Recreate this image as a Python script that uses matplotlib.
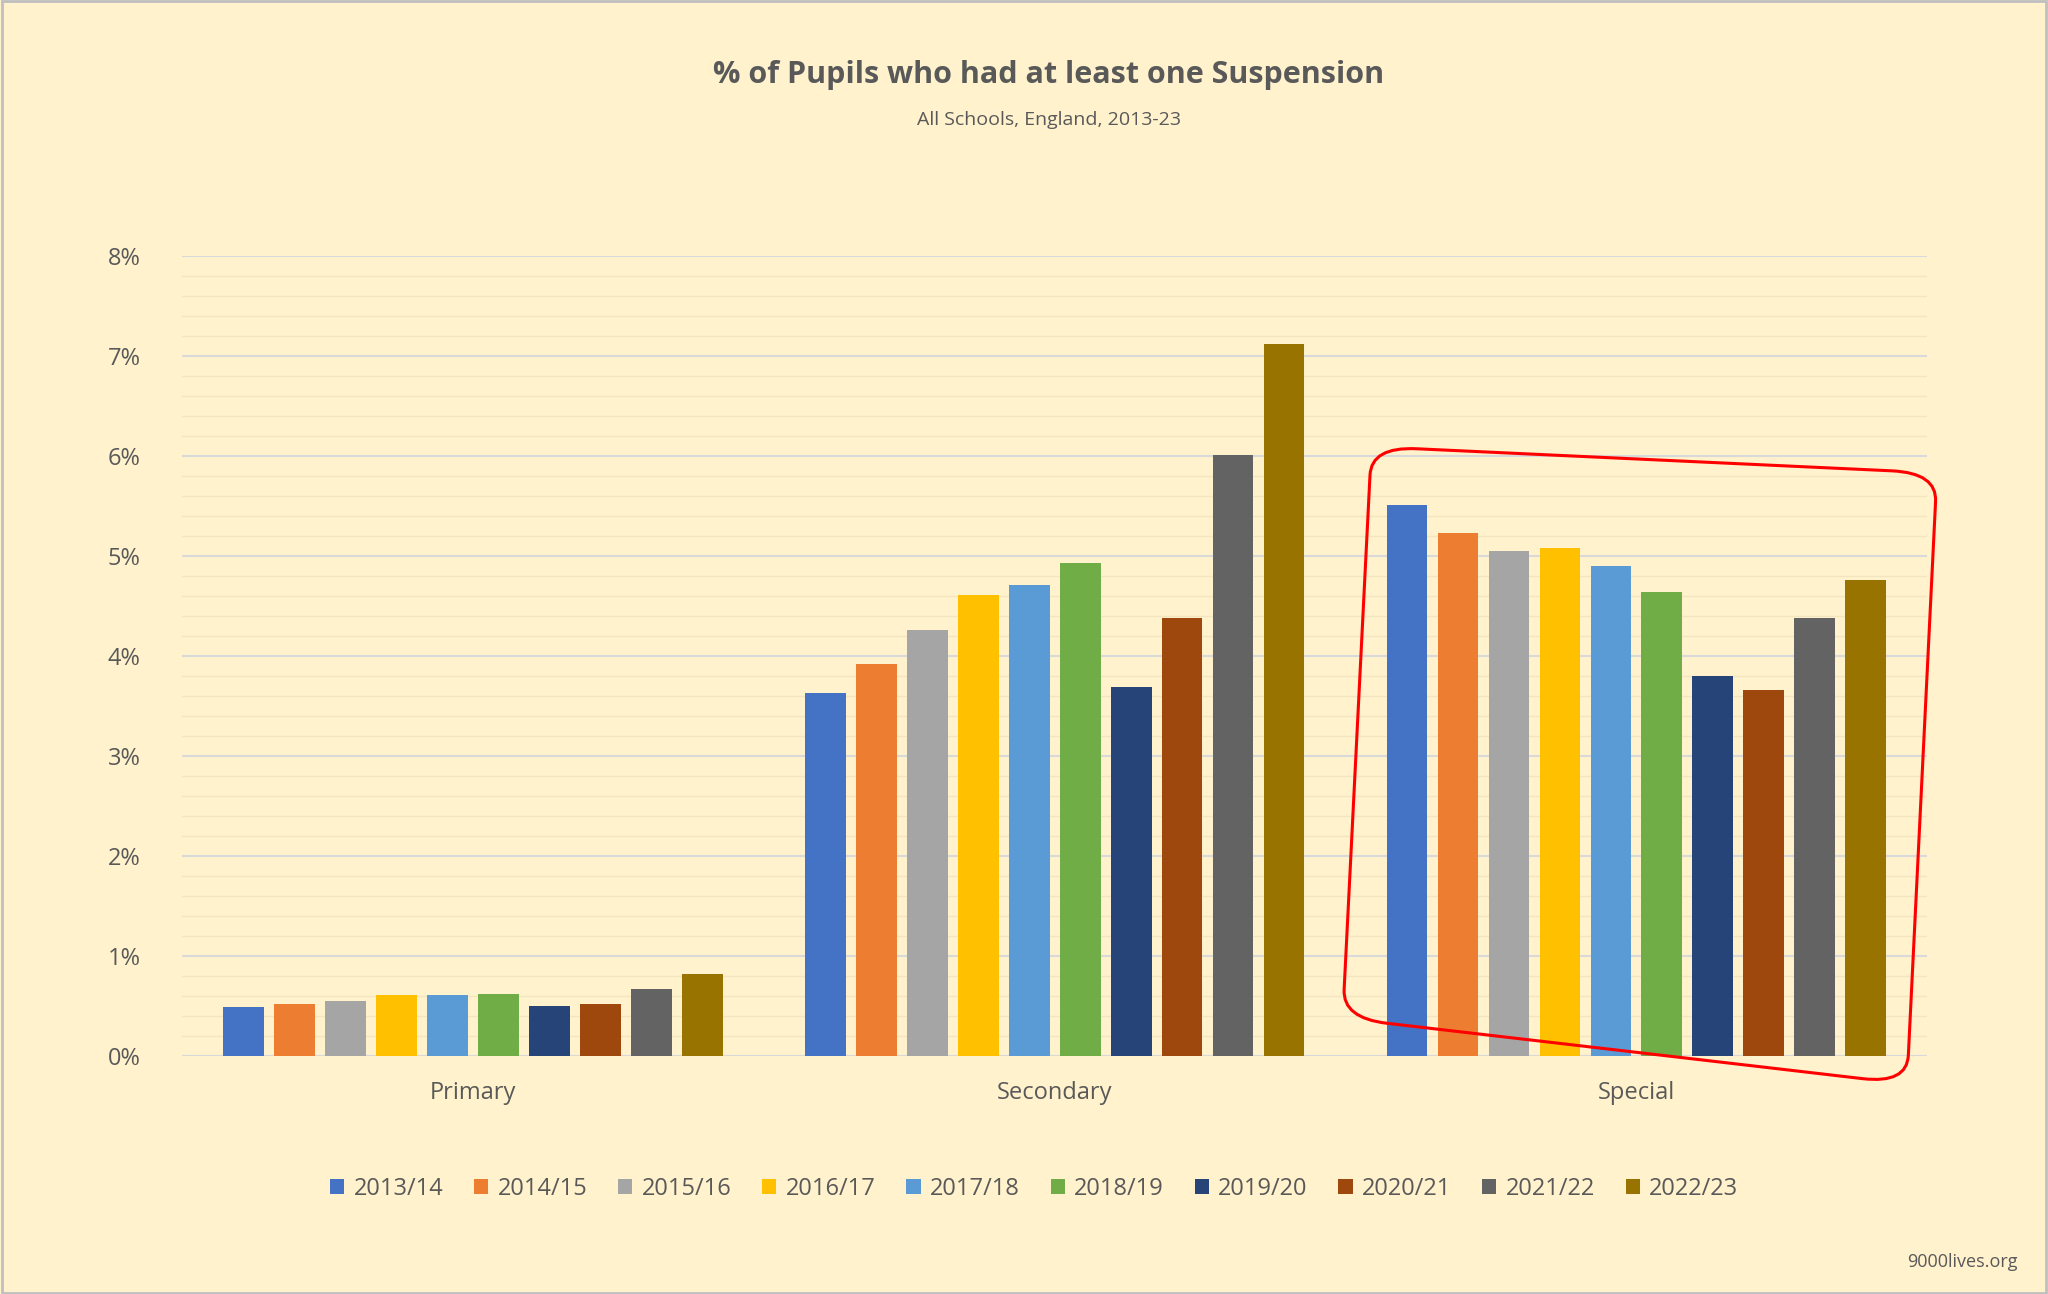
import matplotlib
matplotlib.use("Agg")
import matplotlib.pyplot as plt
import numpy as np
from matplotlib.path import Path
from matplotlib.patches import PathPatch, Rectangle

categories = ["Primary", "Secondary", "Special"]
years = ["2013/14", "2014/15", "2015/16", "2016/17", "2017/18", "2018/19", "2019/20", "2020/21", "2021/22", "2022/23"]
primary = [0.49, 0.52, 0.55, 0.61, 0.61, 0.62, 0.50, 0.52, 0.67, 0.82]
secondary = [3.63, 3.92, 4.26, 4.61, 4.71, 4.93, 3.69, 4.38, 6.01, 7.12]
special = [5.51, 5.23, 5.05, 5.08, 4.90, 4.64, 3.80, 3.66, 4.38, 4.76]
colors = ["#4472C4", "#ED7D31", "#A5A5A5", "#FFC000", "#5B9BD5", "#70AD47", "#264478", "#9E480E", "#636363", "#997300"]

bg = "#FFF2CC"
tc = "#595959"
plt.rcParams['font.family'] = ['Open Sans', 'DejaVu Sans']
fig = plt.figure(figsize=(20.48, 12.94), dpi=100, facecolor=bg)
ax = fig.add_axes([0.089, 0.184, 0.852, 0.618], facecolor=bg)
data = np.array([primary, secondary, special])
x = np.arange(3)
step, w = 0.0876, 0.07
for i, yl in enumerate(years):
    ax.bar(x + (i - 4.5) * step, data[:, i], w, color=colors[i], label=yl, zorder=3)
ax.set_xlim(-0.5, 2.5)
ax.set_ylim(0, 8)
ax.set_yticks(np.arange(0, 9))
ax.set_yticklabels([f"{v}%" for v in range(9)])
ax.set_yticks(np.arange(0, 8.01, 0.2), minor=True)
ax.grid(axis='y', which='major', color='#D9D9D9', lw=1.5, zorder=0)
ax.grid(axis='y', which='minor', color='#F2E6C0', lw=1, zorder=0)
ax.tick_params(axis='y', which='both', length=0, labelsize=17, colors=tc, pad=30)
ax.set_xticks(x)
ax.set_xticklabels(categories)
ax.tick_params(axis='x', length=0, labelsize=17, colors=tc, pad=18)
for s in ax.spines.values():
    s.set_visible(False)
ax.axhline(0, color='#D9D9D9', lw=1.5, zorder=2)

fig.text(0.512, 0.942, "% of Pupils who had at least one Suspension", ha='center', va='center',
         fontsize=22, fontweight='bold', color=tc)
fig.text(0.512, 0.907, "All Schools, England, 2013-23", ha='center', va='center', fontsize=14, color=tc)
fig.text(0.985, 0.018, "9000lives.org", ha='right', va='bottom', fontsize=13, color=tc)
fig.legend(loc='center', bbox_to_anchor=(0.505, 0.081), ncol=10, frameon=False, fontsize=17,
           handlelength=0.6, handleheight=0.6, handletextpad=0.4, columnspacing=1.3, labelcolor=tc)

# rounded quadrilateral
W, H = 1568, 985
pts = np.array([(1050, 340), (1483, 360), (1460, 825), (1028, 775)], float)
pts = np.c_[pts[:, 0] / W, 1 - pts[:, 1] / H]
r = 0.022
verts, codes = [], []
n = len(pts)
for k in range(n):
    p, prev, nxt = pts[k], pts[k - 1], pts[(k + 1) % n]
    a = p + (prev - p) / np.linalg.norm(prev - p) * r
    b = p + (nxt - p) / np.linalg.norm(nxt - p) * r
    verts += [a, p, b]
    codes += [Path.MOVETO if k == 0 else Path.LINETO, Path.CURVE3, Path.CURVE3]
verts.append(verts[0]); codes.append(Path.CLOSEPOLY)
fig.add_artist(PathPatch(Path(verts, codes), fill=False, ec='#FF0000', lw=2.2, transform=fig.transFigure, zorder=10))
fig.add_artist(Rectangle((0.001, 0.001), 0.998, 0.998, fill=False, ec='#BFBFBF', lw=2, transform=fig.transFigure))
fig.savefig("out.png", dpi=100, facecolor=bg)
